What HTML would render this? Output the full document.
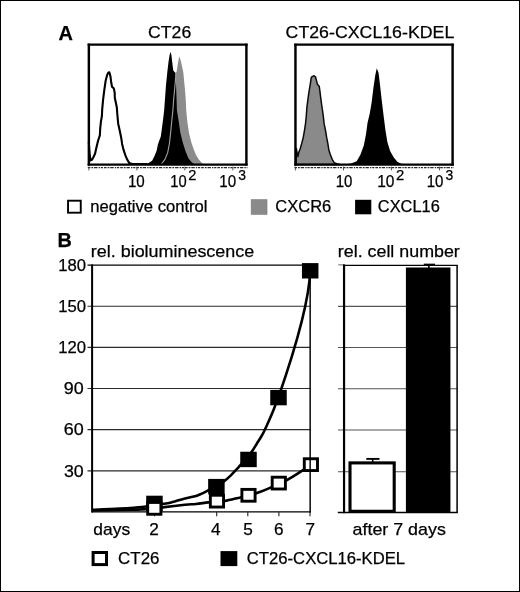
<!DOCTYPE html>
<html lang="en">
<head>
<meta charset="utf-8">
<title>Figure</title>
<style>
html,body{margin:0;padding:0;background:#fff;}
body{width:520px;height:592px;overflow:hidden;}
svg{display:block;}
svg text{font-family:"Liberation Sans",Arial,Helvetica,sans-serif;fill:#000;stroke:#000;stroke-width:0.25px;}
</style>
</head>
<body>
<svg width="520" height="592" viewBox="0 0 520 592">
<rect x="0.50" y="0.50" width="519.00" height="591.00" fill="#fff" stroke="#000" stroke-width="1"/>
<text x="58.60" y="39.85" font-size="21.1" font-weight="bold" stroke-width="0.45" textLength="14.42" lengthAdjust="spacingAndGlyphs">A</text>
<text x="148.10" y="37.60" font-size="17.4" textLength="43.17" lengthAdjust="spacingAndGlyphs">CT26</text>
<text x="285.60" y="37.60" font-size="17.4" textLength="168.69" lengthAdjust="spacingAndGlyphs">CT26-CXCL16-KDEL</text>
<polygon points="173.0,164.0 175.3,73.0 176.5,72.0 177.5,66.0 178.5,60.0 179.4,56.2 180.5,60.0 181.5,64.0 183.3,72.3 185.0,90.0 185.8,100.0 186.2,110.0 187.3,121.5 189.0,133.1 191.3,142.3 193.7,149.2 196.0,155.0 198.8,159.6 201.5,162.6 204.0,164.6" fill="#8c8c8c"/>
<polygon points="141.0,164.6 143.5,164.1 148.1,163.3 152.1,160.8 154.4,156.2 156.7,150.4 157.9,144.6 159.0,141.2 160.8,136.5 161.9,128.5 163.1,119.2 164.2,110.0 164.9,100.0 166.0,85.0 167.3,72.3 168.5,62.0 169.6,55.0 170.7,51.8 171.4,55.0 172.2,62.0 172.8,67.0 173.3,70.5 175.3,72.8 176.0,85.0 176.6,100.0 176.9,110.0 178.7,121.5 180.4,133.1 182.7,142.3 185.6,151.5 188.5,158.5 191.9,162.5 195.0,164.6" fill="#000"/>
<polyline points="161.3,164.0 164.8,159.6 167.7,152.7 169.4,143.5 170.6,133.1 171.7,121.5 172.9,110.0 173.6,100.0 175.0,85.0 176.0,74.0" fill="none" stroke="#a4a4a4" stroke-width="1.1"/>
<polyline points="88.8,142.0 89.5,152.0 90.1,157.5 90.7,160.5 92.0,159.6 93.3,157.5 95.1,153.5 96.6,146.8 98.0,141.0 99.9,135.2 100.2,128.5 100.9,121.8 101.9,116.0 102.2,109.3 103.1,99.7 104.3,90.0 105.7,80.4 107.2,74.7 108.4,72.6 109.4,72.4 110.5,76.6 111.2,82.3 112.0,86.7 113.9,88.6 114.7,92.9 114.8,97.7 115.8,102.5 116.8,107.3 117.3,114.0 118.2,123.7 119.7,130.4 121.1,137.2 122.1,143.9 123.5,149.7 125.4,155.4 127.3,159.8 129.3,163.1 132.2,164.0 147.0,164.0" fill="none" stroke="#000" stroke-width="2.1" stroke-linejoin="round"/>
<polygon points="296.0,164.5 296.4,148.5 297.2,153.5 297.9,156.6 298.7,152.5 300.2,148.7 301.6,143.9 303.3,137.2 304.5,130.4 305.5,123.7 306.3,116.0 306.9,107.3 307.9,99.7 308.8,92.9 309.8,87.2 310.7,81.4 311.3,77.3 312.6,76.4 314.0,75.8 315.5,76.8 316.4,80.4 317.4,84.3 319.2,86.2 319.9,91.0 320.6,96.8 321.6,104.5 322.6,111.2 323.3,116.0 324.1,123.7 325.5,130.4 326.6,137.2 327.9,143.9 328.8,149.7 330.3,154.5 332.2,159.3 334.1,162.6 336.7,163.8 340.0,164.5" fill="#8a8a8a" stroke="#0a0a0a" stroke-width="1.5" stroke-linejoin="round"/>
<polygon points="344.0,164.5 351.1,163.6 356.7,161.2 360.4,154.7 363.8,145.4 366.0,134.3 367.5,123.1 369.7,113.8 371.6,102.7 373.4,87.9 375.3,74.9 376.8,68.2 378.6,73.0 379.9,84.1 381.8,100.8 383.6,115.7 385.5,130.6 387.3,141.7 390.1,151.0 393.8,157.5 397.6,162.1 401.3,163.8 408.0,164.5" fill="#000"/>
<line x1="87.8" y1="167.7" x2="247.4" y2="167.7" stroke="#2a2a2a" stroke-width="1.2" stroke-dasharray="2.6 1 1.8 0.9 3.4 1.1 1.4 0.8 2.2 1"/>
<line x1="88.85" y1="166.60" x2="88.85" y2="170.40" stroke="#444" stroke-width="0.9"/>
<line x1="136.85" y1="166.60" x2="136.85" y2="170.40" stroke="#444" stroke-width="0.9"/>
<line x1="184.85" y1="166.60" x2="184.85" y2="170.40" stroke="#444" stroke-width="0.9"/>
<line x1="232.85" y1="166.60" x2="232.85" y2="170.40" stroke="#444" stroke-width="0.9"/>
<line x1="294.4" y1="167.7" x2="453.6" y2="167.7" stroke="#2a2a2a" stroke-width="1.2" stroke-dasharray="2.6 1 1.8 0.9 3.4 1.1 1.4 0.8 2.2 1"/>
<line x1="295.45" y1="166.60" x2="295.45" y2="170.40" stroke="#444" stroke-width="0.9"/>
<line x1="343.45" y1="166.60" x2="343.45" y2="170.40" stroke="#444" stroke-width="0.9"/>
<line x1="391.45" y1="166.60" x2="391.45" y2="170.40" stroke="#444" stroke-width="0.9"/>
<line x1="439.45" y1="166.60" x2="439.45" y2="170.40" stroke="#444" stroke-width="0.9"/>
<line x1="87.65" y1="44.65" x2="247.60" y2="44.65" stroke="#000" stroke-width="2.1"/>
<line x1="87.65" y1="164.65" x2="247.60" y2="164.65" stroke="#000" stroke-width="2.1"/>
<line x1="88.85" y1="43.65" x2="88.85" y2="165.65" stroke="#000" stroke-width="2.45"/>
<line x1="246.40" y1="43.65" x2="246.40" y2="165.65" stroke="#000" stroke-width="2.45"/>
<line x1="294.25" y1="44.65" x2="453.80" y2="44.65" stroke="#000" stroke-width="2.1"/>
<line x1="294.25" y1="164.65" x2="453.80" y2="164.65" stroke="#000" stroke-width="2.1"/>
<line x1="295.45" y1="43.65" x2="295.45" y2="165.65" stroke="#000" stroke-width="2.45"/>
<line x1="452.60" y1="43.65" x2="452.60" y2="165.65" stroke="#000" stroke-width="2.45"/>
<text x="127.95" y="187.40" font-size="15.6" textLength="16.85" lengthAdjust="spacingAndGlyphs">10</text>
<text x="170.28" y="187.40" font-size="15.6" textLength="16.40" lengthAdjust="spacingAndGlyphs">10</text>
<text x="188.36" y="180.10" font-size="15.4" textLength="8.18" lengthAdjust="spacingAndGlyphs">2</text>
<text x="219.25" y="187.40" font-size="15.6" textLength="16.85" lengthAdjust="spacingAndGlyphs">10</text>
<text x="238.17" y="180.10" font-size="15.4" textLength="7.74" lengthAdjust="spacingAndGlyphs">3</text>
<text x="335.75" y="187.40" font-size="15.6" textLength="16.73" lengthAdjust="spacingAndGlyphs">10</text>
<text x="377.22" y="187.40" font-size="15.6" textLength="17.29" lengthAdjust="spacingAndGlyphs">10</text>
<text x="395.95" y="180.10" font-size="15.4" textLength="8.30" lengthAdjust="spacingAndGlyphs">2</text>
<text x="426.65" y="187.40" font-size="15.6" textLength="16.73" lengthAdjust="spacingAndGlyphs">10</text>
<text x="445.57" y="180.10" font-size="15.4" textLength="7.74" lengthAdjust="spacingAndGlyphs">3</text>
<rect x="68.05" y="200.70" width="12.70" height="12.00" fill="#fff" stroke="#000" stroke-width="1.9"/>
<text x="90.20" y="212.20" font-size="16.3" textLength="117.32" lengthAdjust="spacingAndGlyphs">negative control</text>
<rect x="251.20" y="199.70" width="15.80" height="14.60" fill="#8a8a8a" stroke="#7c7c7c" stroke-width="0.7"/>
<text x="275.36" y="212.20" font-size="16.3" textLength="55.96" lengthAdjust="spacingAndGlyphs">CXCR6</text>
<rect x="355.10" y="199.80" width="16.20" height="14.50" fill="#000"/>
<text x="377.87" y="212.20" font-size="16.3" textLength="61.95" lengthAdjust="spacingAndGlyphs">CXCL16</text>
<text x="57.57" y="247.25" font-size="20.9" font-weight="bold" stroke-width="0.45" textLength="14.33" lengthAdjust="spacingAndGlyphs">B</text>
<text x="90.81" y="256.50" font-size="17" textLength="163.39" lengthAdjust="spacingAndGlyphs">rel. bioluminescence</text>
<text x="337.82" y="257.20" font-size="17" textLength="121.98" lengthAdjust="spacingAndGlyphs">rel. cell number</text>
<line x1="87.50" y1="470.80" x2="310.15" y2="470.80" stroke="#2a2a2a" stroke-width="1.15"/>
<line x1="87.50" y1="429.65" x2="310.15" y2="429.65" stroke="#2a2a2a" stroke-width="1.15"/>
<line x1="87.50" y1="388.50" x2="310.15" y2="388.50" stroke="#2a2a2a" stroke-width="1.15"/>
<line x1="87.50" y1="347.35" x2="310.15" y2="347.35" stroke="#2a2a2a" stroke-width="1.15"/>
<line x1="87.50" y1="306.20" x2="310.15" y2="306.20" stroke="#2a2a2a" stroke-width="1.15"/>
<line x1="87.50" y1="265.05" x2="310.15" y2="265.05" stroke="#000" stroke-width="1.3"/>
<line x1="92.10" y1="511.85" x2="310.85" y2="511.85" stroke="#000" stroke-width="1.4"/>
<line x1="92.10" y1="264.45" x2="92.10" y2="512.55" stroke="#000" stroke-width="2"/>
<line x1="154.50" y1="511.95" x2="154.50" y2="516.30" stroke="#222" stroke-width="1.1"/>
<line x1="216.70" y1="511.95" x2="216.70" y2="516.30" stroke="#222" stroke-width="1.1"/>
<line x1="247.80" y1="511.95" x2="247.80" y2="516.30" stroke="#222" stroke-width="1.1"/>
<line x1="278.90" y1="511.95" x2="278.90" y2="516.30" stroke="#222" stroke-width="1.1"/>
<line x1="310.00" y1="511.95" x2="310.00" y2="516.30" stroke="#222" stroke-width="1.1"/>
<text x="63.92" y="476.50" font-size="17" textLength="19.77" lengthAdjust="spacingAndGlyphs">30</text>
<text x="63.69" y="435.35" font-size="17" textLength="20.02" lengthAdjust="spacingAndGlyphs">60</text>
<text x="63.76" y="394.20" font-size="17" textLength="19.94" lengthAdjust="spacingAndGlyphs">90</text>
<text x="58.23" y="353.25" font-size="17" textLength="27.82" lengthAdjust="spacingAndGlyphs">120</text>
<text x="58.23" y="312.10" font-size="17" textLength="27.82" lengthAdjust="spacingAndGlyphs">150</text>
<text x="58.23" y="270.95" font-size="17" textLength="27.82" lengthAdjust="spacingAndGlyphs">180</text>
<path d="M92.3,509.9 C96.9,509.7 111.7,509.1 120.0,508.6 C128.3,508.1 136.3,507.6 142.0,507.0 C147.7,506.4 150.8,505.7 154.4,505.2 C158.0,504.7 161.0,504.2 163.4,503.8 C165.8,503.4 167.1,503.3 169.0,502.9 C170.9,502.5 171.9,502.1 174.6,501.4 C177.3,500.6 181.4,499.3 185.0,498.4 C188.6,497.5 193.2,496.8 196.0,496.0 C198.8,495.2 199.8,494.5 201.8,493.6 C203.8,492.7 205.6,491.7 208.0,490.4 C210.4,489.1 213.6,487.2 216.4,485.6 C219.2,484.0 222.5,482.3 224.8,480.6 C227.2,478.9 228.5,477.6 230.6,475.6 C232.7,473.6 235.7,470.3 237.3,468.6 C238.9,466.9 238.8,467.0 240.2,465.3 C241.6,463.6 244.1,460.8 246.0,458.6 C247.9,456.4 249.7,454.5 251.5,452.0 C253.3,449.5 255.1,446.4 256.8,443.7 C258.5,441.0 260.3,438.2 261.6,436.0 C262.9,433.8 263.3,433.0 264.5,430.5 C265.7,428.0 267.3,424.4 268.8,421.0 C270.3,417.6 271.9,414.1 273.5,410.0 C275.1,405.9 277.8,398.8 278.7,396.5 C289.1,366.5 309.0,305.0 310.2,271.0" fill="none" stroke="#000" stroke-width="2.6" stroke-linejoin="round"/>
<path d="M92.3,510.4 C96.9,510.3 111.7,510.1 120.0,509.9 C128.3,509.7 136.3,509.6 142.0,509.4 C147.7,509.1 150.9,508.7 154.3,508.4 C157.7,508.1 157.4,508.0 162.5,507.4 C167.6,506.8 179.4,505.4 185.0,504.8 C190.6,504.2 192.2,504.4 196.0,504.0 C199.8,503.6 204.5,502.8 208.0,502.4 C211.5,502.0 214.1,501.8 216.9,501.6 C219.8,501.4 221.0,501.7 224.8,501.0 C228.7,500.3 236.3,498.3 240.2,497.4 C244.1,496.4 245.7,496.0 248.5,495.3 C251.3,494.6 253.2,494.4 256.9,493.1 C260.6,491.8 267.0,489.2 270.6,487.6 C274.2,486.0 276.1,484.5 278.8,483.2 C281.5,481.9 283.0,482.1 287.0,480.0 C291.0,477.9 298.7,472.9 302.7,470.4 C306.7,467.9 309.5,465.7 310.9,464.8" fill="none" stroke="#000" stroke-width="2.6" stroke-linejoin="round"/>
<rect x="146.20" y="495.70" width="16.50" height="15.40" fill="#000"/>
<rect x="208.15" y="478.90" width="16.50" height="15.40" fill="#000"/>
<rect x="240.25" y="451.75" width="16.50" height="15.40" fill="#000"/>
<rect x="270.25" y="389.90" width="16.50" height="15.40" fill="#000"/>
<rect x="301.95" y="263.10" width="16.50" height="15.40" fill="#000"/>
<rect x="147.70" y="502.45" width="13.20" height="11.80" fill="#fff" stroke="#000" stroke-width="2.9"/>
<rect x="210.35" y="495.25" width="13.20" height="11.80" fill="#fff" stroke="#000" stroke-width="2.9"/>
<rect x="241.90" y="489.40" width="13.20" height="11.80" fill="#fff" stroke="#000" stroke-width="2.9"/>
<rect x="272.20" y="477.20" width="13.20" height="11.80" fill="#fff" stroke="#000" stroke-width="2.9"/>
<rect x="304.30" y="458.75" width="13.20" height="11.80" fill="#fff" stroke="#000" stroke-width="2.9"/>
<line x1="310.15" y1="265.05" x2="310.15" y2="512.45" stroke="#000" stroke-width="1.45"/>
<text x="93.37" y="535.00" font-size="17" textLength="36.76" lengthAdjust="spacingAndGlyphs">days</text>
<text x="149.37" y="534.50" font-size="17.2">2</text>
<text x="211.12" y="534.50" font-size="17.2">4</text>
<text x="243.33" y="534.50" font-size="17.2">5</text>
<text x="273.91" y="534.50" font-size="17.2">6</text>
<text x="305.56" y="534.50" font-size="17.2">7</text>
<line x1="338.00" y1="471.72" x2="457.10" y2="471.72" stroke="#555" stroke-width="1.15"/>
<line x1="338.00" y1="429.99" x2="457.10" y2="429.99" stroke="#555" stroke-width="1.15"/>
<line x1="338.00" y1="388.76" x2="457.10" y2="388.76" stroke="#555" stroke-width="1.15"/>
<line x1="338.00" y1="347.53" x2="457.10" y2="347.53" stroke="#555" stroke-width="1.15"/>
<line x1="338.00" y1="306.30" x2="457.10" y2="306.30" stroke="#555" stroke-width="1.15"/>
<line x1="338.30" y1="264.87" x2="344.05" y2="264.87" stroke="#666" stroke-width="1"/>
<line x1="344.05" y1="265.37" x2="457.85" y2="265.37" stroke="#000" stroke-width="1.4"/>
<line x1="457.10" y1="265.07" x2="457.10" y2="512.45" stroke="#000" stroke-width="1.5"/>
<line x1="337.80" y1="512.45" x2="457.85" y2="512.45" stroke="#000" stroke-width="1.5"/>
<line x1="344.05" y1="264.37" x2="344.05" y2="513.20" stroke="#000" stroke-width="2.2"/>
<rect x="350.00" y="462.90" width="44.20" height="48.40" fill="#fff" stroke="#000" stroke-width="3.1"/>
<line x1="372.70" y1="458.80" x2="372.70" y2="462.00" stroke="#000" stroke-width="1.6"/>
<line x1="366.30" y1="458.90" x2="379.50" y2="458.90" stroke="#000" stroke-width="1.9"/>
<rect x="405.90" y="267.50" width="44.55" height="245.10" fill="#000"/>
<line x1="428.90" y1="264.30" x2="428.90" y2="268.00" stroke="#000" stroke-width="1.6"/>
<line x1="423.80" y1="264.40" x2="435.00" y2="264.40" stroke="#000" stroke-width="1.5"/>
<text x="352.54" y="535.00" font-size="17" textLength="93.30" lengthAdjust="spacingAndGlyphs">after 7 days</text>
<rect x="93.10" y="552.50" width="13.40" height="12.10" fill="#fff" stroke="#000" stroke-width="3"/>
<text x="118.14" y="564.40" font-size="16.3" textLength="41.40" lengthAdjust="spacingAndGlyphs">CT26</text>
<rect x="220.50" y="551.10" width="16.80" height="15.00" fill="#000"/>
<text x="246.85" y="564.40" font-size="16.3" textLength="158.30" lengthAdjust="spacingAndGlyphs">CT26-CXCL16-KDEL</text>
</svg>
</body>
</html>
